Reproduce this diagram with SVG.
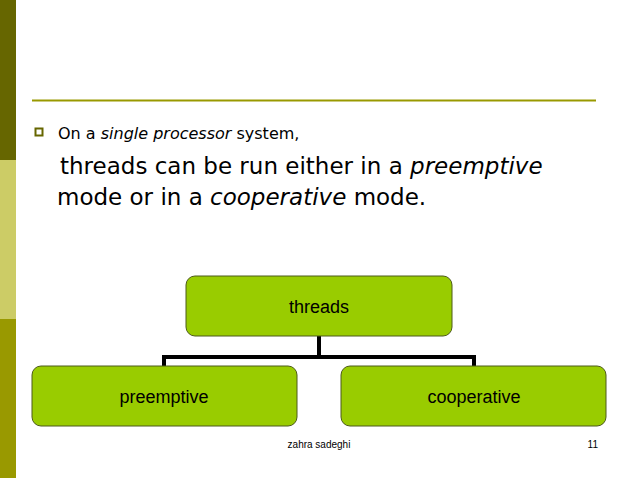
<svg xmlns="http://www.w3.org/2000/svg" width="638" height="478" viewBox="0 0 638 478">
<style>
.t{font-family:"DejaVu Sans",Verdana,sans-serif;fill:#000}
.b{fill:#99cc00;stroke:#4d5a1a;stroke-width:1}
.n{font-family:"Liberation Sans",Arial,sans-serif;font-size:18px;fill:#000;text-anchor:middle}
</style>
<rect width="638" height="478" fill="#fff"/>
<rect x="0" y="0" width="16" height="160" fill="#666600"/>
<rect x="0" y="160" width="16" height="159" fill="#cccc66"/>
<rect x="0" y="319" width="16" height="159" fill="#999900"/>
<line x1="32" y1="100.5" x2="596" y2="100.5" stroke="#999900" stroke-width="2"/>
<rect x="35.5" y="128.5" width="7" height="7" fill="none" stroke="#666600" stroke-width="2"/>
<text class="t" x="58" y="139" font-size="16">On a <tspan font-style="italic">single processor</tspan> system,</text>
<text class="t" x="60" y="174" font-size="23">threads can be run either in a <tspan font-style="italic">preemptive</tspan></text>
<text class="t" x="57" y="205" font-size="23">mode or in a <tspan font-style="italic">cooperative</tspan> mode.</text>
<g id="connectors" stroke="#000" stroke-width="4" fill="none">
<path d="M319 336V357M164 357H474M164 355V366M474 355V366"/>
</g>
<g id="threads"><rect class="b" x="186" y="276" width="266" height="60" rx="9"/><text class="n" x="319" y="313">threads</text></g>
<g id="preemptive"><rect class="b" x="32" y="366" width="265" height="60" rx="9"/><text class="n" x="164" y="403">preemptive</text></g>
<g id="cooperative"><rect class="b" x="341" y="366" width="265" height="60" rx="9"/><text class="n" x="474" y="403">cooperative</text></g>
<text x="319" y="448" font-family="Liberation Sans,Arial,sans-serif" font-size="10" text-anchor="middle">zahra sadeghi</text>
<text x="598" y="448" font-family="Liberation Sans,Arial,sans-serif" font-size="10" text-anchor="end">11</text>
</svg>
